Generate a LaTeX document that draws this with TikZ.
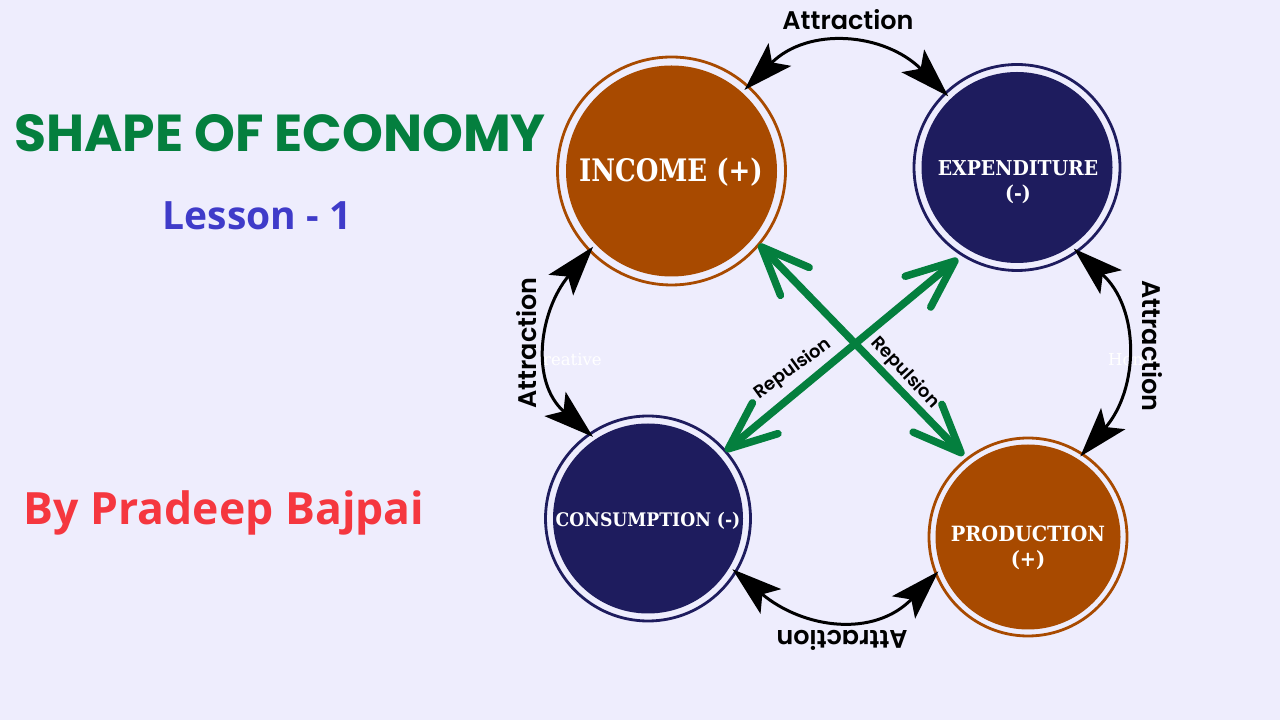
\documentclass[tikz,border=0pt]{standalone}
\usepackage{fontspec}
\usetikzlibrary{arrows.meta}
\setmainfont{Open Sans}
\newfontfamily\ttlfam{Poppins}
\newfontfamily\labfam[UprightFont=* SemiBold]{Poppins}
\newfontfamily\nodefam[FakeStretch=0.92]{DejaVu Serif}
\newfontfamily\incfam[FakeStretch=0.84]{DejaVu Serif}
\newfontfamily\ghostfam{DejaVu Serif}
\definecolor{bgc}{HTML}{EEEDFD}
\definecolor{brownc}{HTML}{A84A00}
\definecolor{navyc}{HTML}{1E1C5E}
\definecolor{greenc}{HTML}{047F3E}
\definecolor{lessonc}{HTML}{3F3BC9}
\definecolor{redc}{HTML}{F5373F}
\tikzset{
  ring/.style={circle,draw=#1,line width=2.8pt,fill=bgc,inner sep=0pt,outer sep=0pt},
  core/.style={circle,fill=#1,inner sep=0pt,outer sep=3.5pt},
  captxt/.style={text=white,align=center,inner sep=0pt,font=\nodefam\bfseries},
  attr/.style={line width=3pt,black,{Stealth[length=50pt,width=32pt,inset=11pt]}-{Stealth[length=50pt,width=32pt,inset=11pt]}},
  rep/.style={line width=7.5pt,greenc,{Straight Barb[length=48pt,width=40pt,round]}-{Straight Barb[length=48pt,width=40pt,round]}},
  lab/.style={inner sep=0pt,black,font=\labfam\fontsize{25.5}{28}\selectfont},
  rlab/.style={inner sep=0pt,black,font=\labfam\fontsize{18}{20}\selectfont},
  ghost/.style={inner sep=0pt,white,font=\ghostfam\fontsize{16.5}{18}\selectfont},
}
\begin{document}
\begin{tikzpicture}[x=1pt,y=1pt]
\useasboundingbox (0,0) rectangle (1280,720);
\fill[bgc] (0,0) rectangle (1280,720);
% rings
\node[ring=brownc,minimum size=228pt] (incR) at (671.5,549) {};
\node[ring=navyc,minimum size=206pt] (expR) at (1017,552.5) {};
\node[ring=navyc,minimum size=205pt] (conR) at (648,201.5) {};
\node[ring=brownc,minimum size=198pt] (proR) at (1028,183) {};
\node[core=brownc,minimum size=211pt] (inc) at (671.5,549) {};
\node[core=navyc,minimum size=191pt] (exp) at (1017,552.5) {};
\node[core=navyc,minimum size=190pt] (con) at (648,201.5) {};
\node[core=brownc,minimum size=185pt] (pro) at (1028,183) {};
% captions
\node[captxt,font=\incfam\bfseries\fontsize{31}{34}\selectfont] (incT) at (671,548) {INCOME (+)};
\node[captxt,font=\nodefam\bfseries\fontsize{20.5}{25}\selectfont] (expT) at (1018,538) {EXPENDITURE\\(-)};
\node[captxt,font=\nodefam\bfseries\fontsize{18.7}{22}\selectfont] (conT) at (648,199.5) {CONSUMPTION (-)};
\node[captxt,font=\nodefam\bfseries\fontsize{21}{25}\selectfont] (proT) at (1028,172) {PRODUCTION\\(+)};
% ghost words under the arcs
\node[ghost,anchor=west] (gC) at (543,360) {reative};
\node[ghost,anchor=west] (gH) at (1108,360) {Home};
% attraction arcs
\draw[attr] (inc.48) to[out=45,in=135,looseness=1.13] (exp.134);
\draw[attr] (inc.-136.3) to[out=-130,in=139,looseness=1.13] (con.124);
\draw[attr] (exp.-55.8) to[out=-42,in=49,looseness=1.1] (pro.57.5);
\draw[attr] (con.-31.5) to[out=-40,in=-134,looseness=1.15] (pro.-159);
% repulsion
\draw[rep,shorten >=5pt] (incR.-40) -- (proR.128.8);
\draw[rep,shorten <=6pt] (expR.-122) -- (conR.41.5);
% labels
\node[lab] (a1) at (848,700) {Attraction};
\node[lab,rotate=90] (a2) at (527,377) {Attraction};
\node[lab,rotate=-90] (a3) at (1152,374) {Attraction};
\node[lab,rotate=180] (a4) at (842,80) {Attraction};
\node[rlab,rotate=36] (r1) at (793,351) {Repulsion};
\node[rlab,rotate=-47] (r2) at (905,347) {Repulsion};
% titles
\node[inner sep=0pt,text=greenc,font=\ttlfam\bfseries\fontsize{52}{56}\selectfont] (title) at (280,587) {SHAPE OF ECONOMY};
\node[inner sep=0pt,text=lessonc,font=\bfseries\fontsize{39}{42}\selectfont] (lesson) at (257,504) {Lesson - 1};
\node[inner sep=0pt,text=redc,font=\bfseries\fontsize{44.5}{48}\selectfont] (by) at (224,207) {By Pradeep Bajpai};
\end{tikzpicture}
\end{document}
